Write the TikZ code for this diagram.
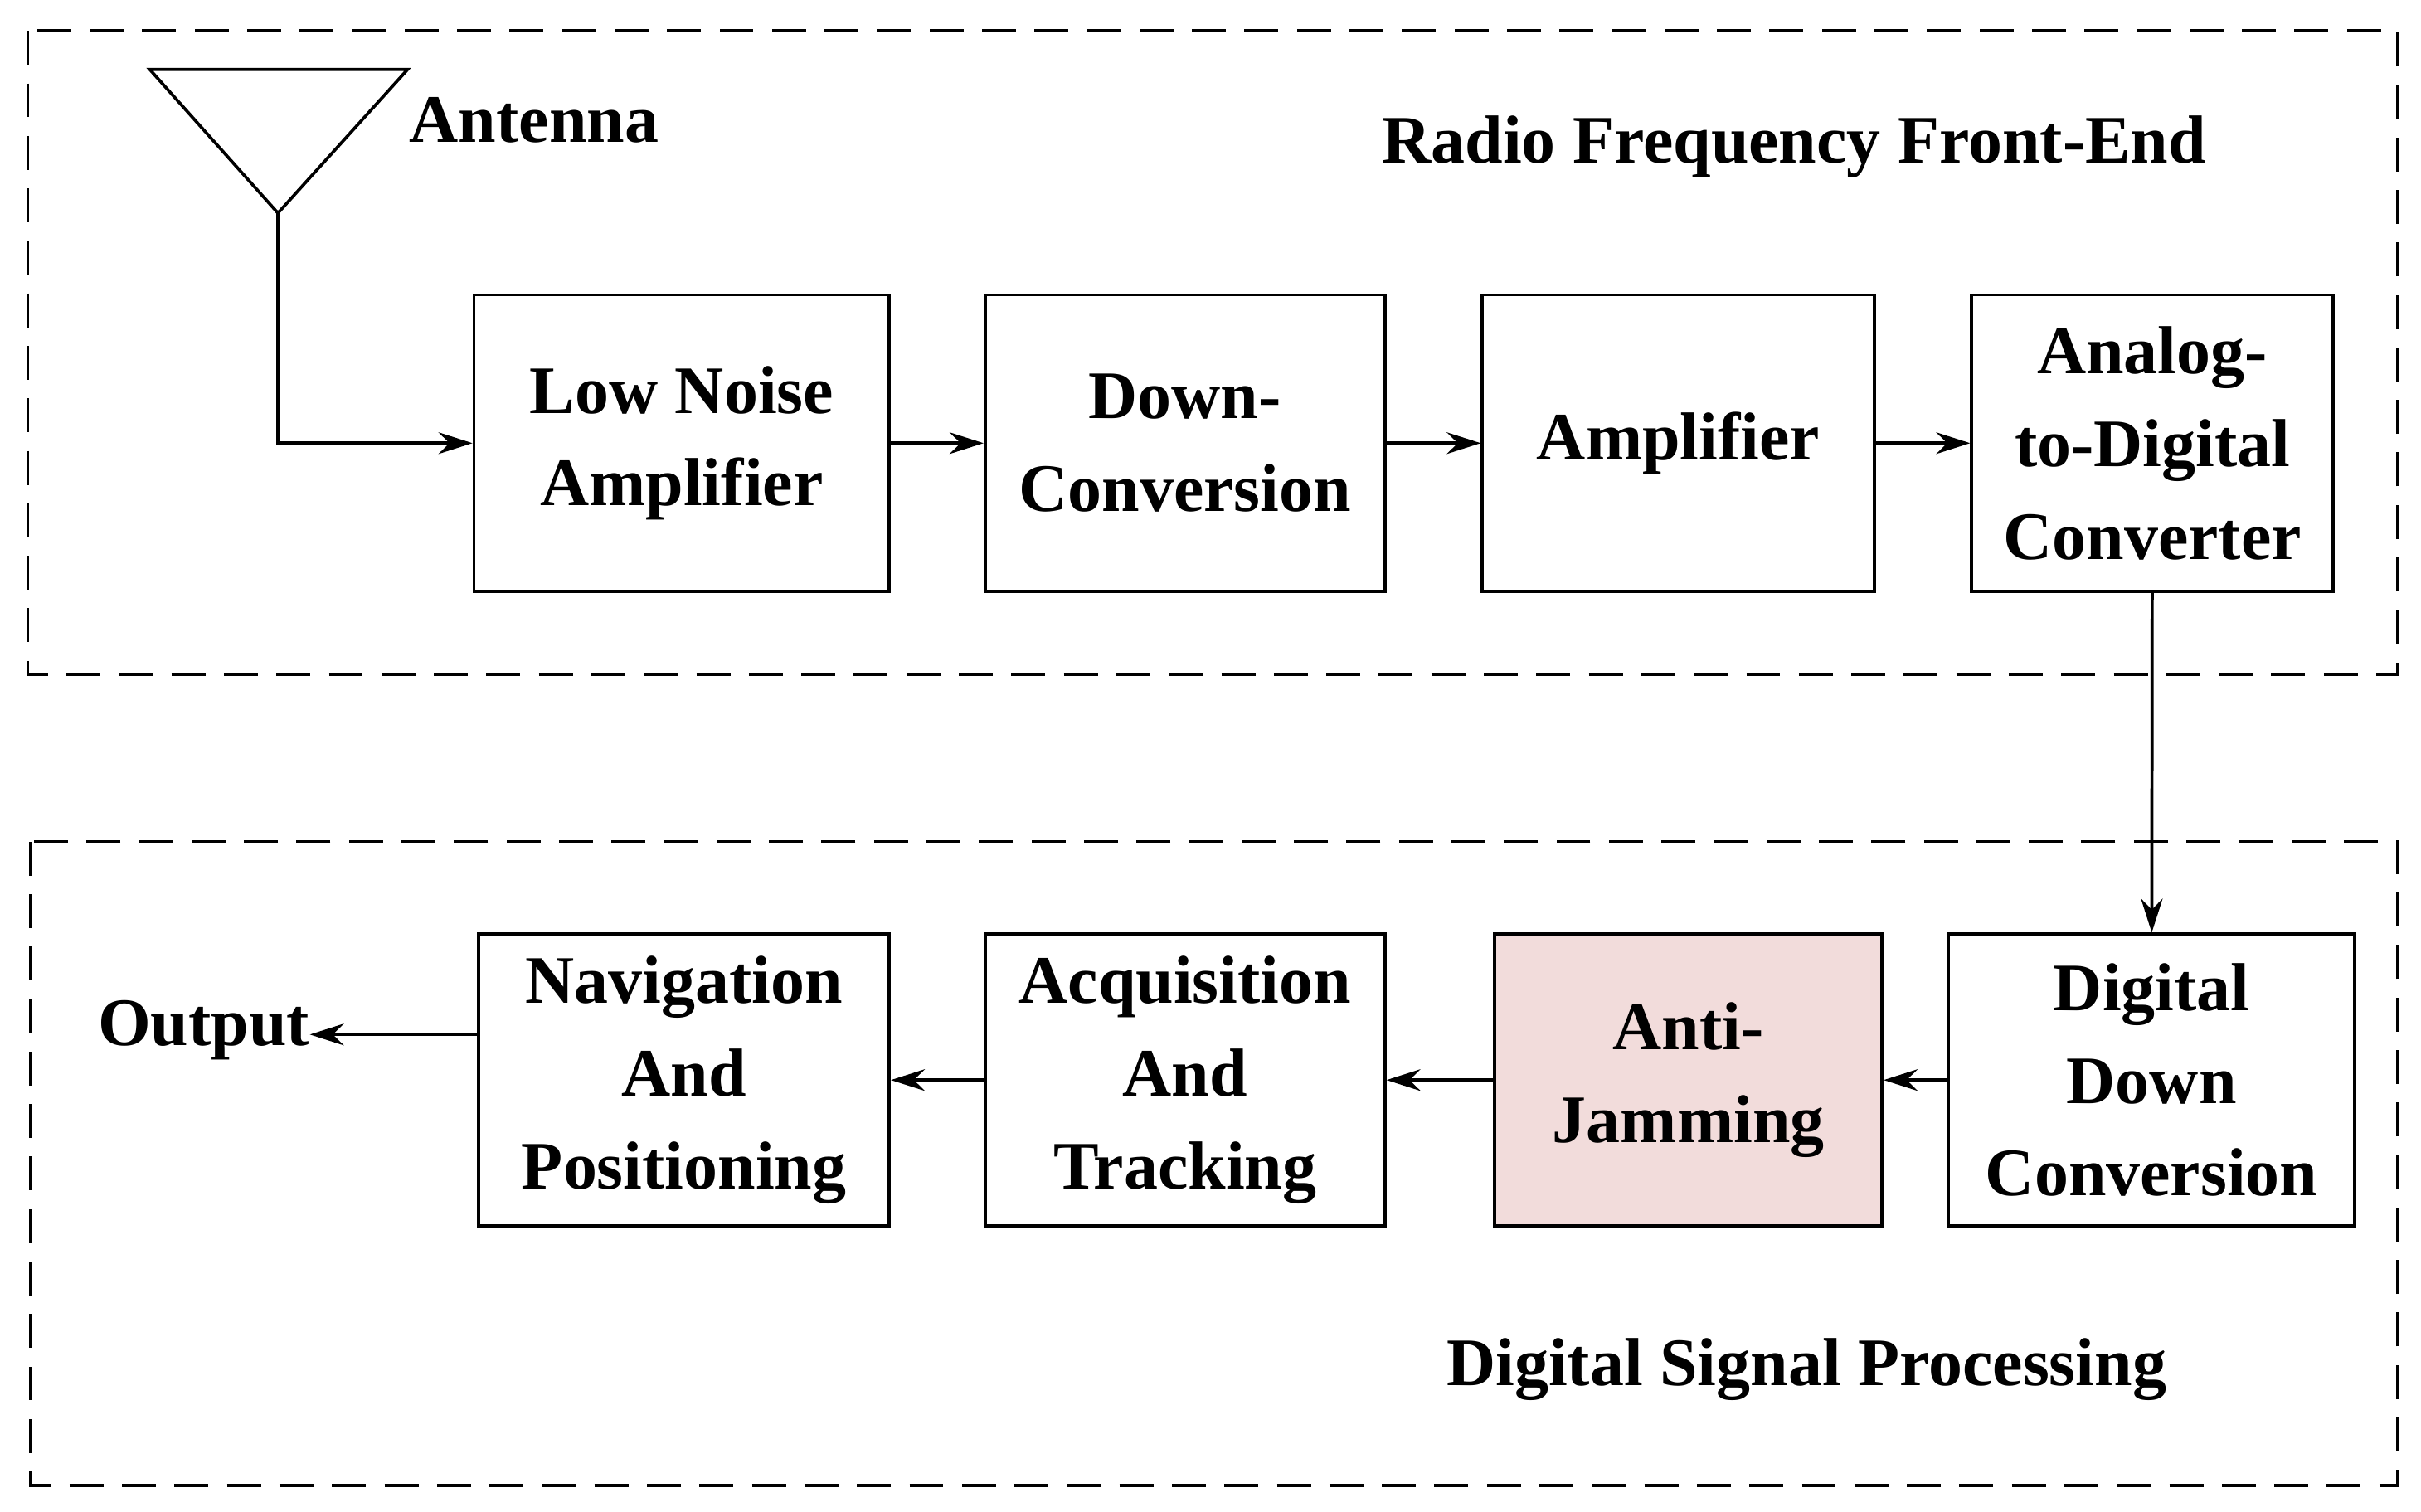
\documentclass[tikz,border=0pt]{standalone}
\usepackage{fontspec}
\setmainfont{Liberation Serif}
\usetikzlibrary{arrows.meta}
\begin{document}
\begin{tikzpicture}[x=1pt,y=-1pt,
  blk/.style={draw,line width=2pt,minimum width=0pt,inner sep=0pt,align=center,font=\fontsize{44}{60}\selectfont\bfseries},
  lbl/.style={inner sep=0pt,font=\fontsize{44}{60}\selectfont\bfseries},
  grp/.style={draw,line width=2pt,dash pattern=on 22pt off 12pt},
  arr/.style={line width=2pt,-{Stealth[length=22pt,width=14pt]}}]
\useasboundingbox (0,0) rectangle (1568,979);
\draw[grp] (18,20) rectangle (1553,437);
\draw[grp] (20,545) rectangle (1553,962);
\node[lbl] (rf) at (1162,95) {Radio Frequency Front-End};
\node[lbl] (dsp) at (1170,887) {Digital Signal Processing};
\draw[line width=2pt] (97,45) -- (264,45) -- (180,138) -- cycle;
\coordinate (ant) at (180,138);
\node[lbl,anchor=west] (antl) at (265,78) {Antenna};
\node[blk,minimum width=269pt,minimum height=192pt] (lna) at (441.5,287) {Low Noise\\Amplifier};
\node[blk,minimum width=259pt,minimum height=192pt] (dc) at (767.5,287) {Down-\\Conversion};
\node[blk,minimum width=254pt,minimum height=192pt] (amp) at (1087,287) {Amplifier};
\node[blk,minimum width=234pt,minimum height=192pt] (adc) at (1394,287) {Analog-\\to-Digital\\Converter};
\node[blk,minimum width=266pt,minimum height=189pt] (nav) at (443,699.5) {Navigation\\And\\Positioning};
\node[blk,minimum width=259pt,minimum height=189pt] (acq) at (767.5,699.5) {Acquisition\\And\\Tracking};
\node[blk,minimum width=251pt,minimum height=189pt,fill={rgb,255:red,242;green,220;blue,219}] (aj) at (1093.5,699.5) {Anti-\\Jamming};
\node[blk,minimum width=263pt,minimum height=189pt] (ddc) at (1393.5,699.5) {Digital\\Down\\Conversion};
\node[lbl] (out) at (132,667) {Output};
\draw[arr] (ant) |- (lna.west);
\draw[arr] (lna) -- (dc);
\draw[arr] (dc) -- (amp);
\draw[arr] (amp) -- (adc);
\draw[arr] (adc) -- (ddc);
\draw[arr] (ddc) -- (aj);
\draw[arr] (aj) -- (acq);
\draw[arr] (acq) -- (nav);
\draw[arr] (nav.west |- 0,670) -- (out.east |- 0,670);
\end{tikzpicture}
\end{document}
